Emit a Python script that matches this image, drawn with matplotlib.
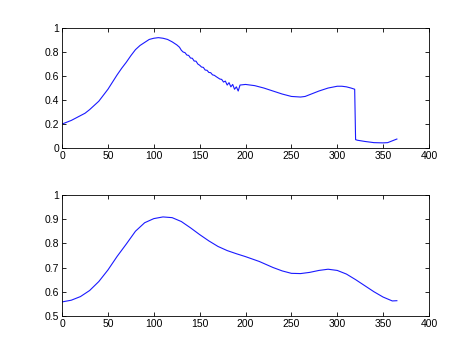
import numpy as np
import matplotlib
matplotlib.use("Agg")
import matplotlib.pyplot as plt

plt.rcParams['font.family'] = ['Liberation Sans', 'DejaVu Sans']

# Top series (day, value)
top_x = [0, 5, 10, 15, 20, 25, 30, 35, 40, 45, 50, 55, 60, 65, 70, 75, 80, 85, 90, 95,
         100, 105, 110, 115, 120, 125, 128, 130, 132, 134, 136, 138, 140, 142, 144, 146,
         148, 150, 152, 154, 156, 158, 160, 162, 164, 166, 168, 170, 172, 174, 176, 178,
         180, 182, 184, 186, 188, 190, 192, 194, 200, 210, 220, 230, 240, 250, 260, 265,
         270, 280, 290, 300, 305, 310, 315, 319, 320, 322, 330, 340, 350, 355, 360, 365]
top_y = [0.20, 0.215, 0.23, 0.25, 0.27, 0.29, 0.32, 0.355, 0.39, 0.44, 0.49, 0.55, 0.61,
         0.665, 0.715, 0.77, 0.82, 0.855, 0.88, 0.905,
         0.915, 0.92, 0.915, 0.905, 0.885, 0.86, 0.84, 0.815, 0.80, 0.795, 0.775, 0.772,
         0.75, 0.748, 0.725, 0.724, 0.70, 0.69, 0.675, 0.672, 0.65, 0.648, 0.63, 0.628,
         0.61, 0.606, 0.595, 0.585, 0.575, 0.572, 0.55, 0.558, 0.525, 0.545, 0.51, 0.53,
         0.49, 0.51, 0.475, 0.525, 0.53, 0.52, 0.50, 0.475, 0.45, 0.43, 0.425, 0.43,
         0.445, 0.475, 0.50, 0.515, 0.515, 0.51, 0.50, 0.49, 0.07, 0.065, 0.055, 0.045,
         0.043, 0.045, 0.06, 0.075]

# Bottom series (day, value)
bot_x = [0, 10, 20, 30, 40, 50, 60, 70, 80, 90, 100, 110, 120, 130, 140, 150, 160, 170,
         180, 190, 200, 215, 230, 240, 250, 260, 270, 280, 290, 300, 310, 320, 330, 340,
         350, 360, 365]
bot_y = [0.558, 0.565, 0.58, 0.605, 0.642, 0.69, 0.746, 0.797, 0.85, 0.885, 0.902, 0.909,
         0.906, 0.89, 0.864, 0.836, 0.81, 0.787, 0.77, 0.757, 0.745, 0.725, 0.70, 0.686,
         0.676, 0.675, 0.68, 0.688, 0.693, 0.688, 0.673, 0.65, 0.625, 0.6, 0.578, 0.562,
         0.563]

fig = plt.figure(figsize=(4.74, 3.55), dpi=100)
ax1 = fig.add_axes([0.131, 0.583, 0.774, 0.338])
ax2 = fig.add_axes([0.131, 0.110, 0.774, 0.341])

ax1.plot(top_x, top_y, color='#1a1aff', lw=0.8)
ax1.set_xlim(0, 400)
ax1.set_ylim(0, 1)
ax1.set_xticks(range(0, 401, 50))
ax1.set_yticks([0, 0.2, 0.4, 0.6, 0.8, 1])
ax1.set_yticklabels(['0', '0.2', '0.4', '0.6', '0.8', '1'])

ax2.plot(bot_x, bot_y, color='#1a1aff', lw=0.8)
ax2.set_xlim(0, 400)
ax2.set_ylim(0.5, 1)
ax2.set_xticks(range(0, 401, 50))
ax2.set_yticks([0.5, 0.6, 0.7, 0.8, 0.9, 1])
ax2.set_yticklabels(['0.5', '0.6', '0.7', '0.8', '0.9', '1'])

for ax in (ax1, ax2):
    ax.tick_params(direction='in', top=True, right=True, labelsize=7.5, length=3,
                   width=0.6, pad=2)
    for s in ax.spines.values():
        s.set_linewidth(0.6)

fig.savefig('out.png', dpi=100)
